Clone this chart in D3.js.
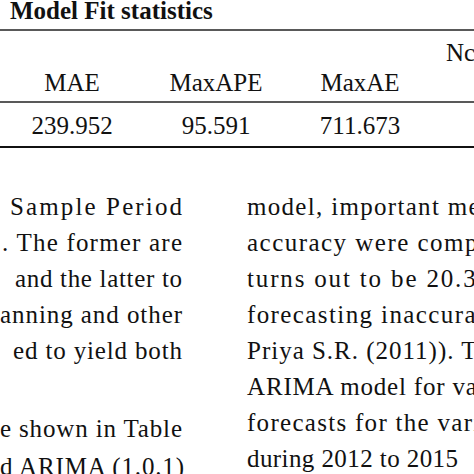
<!DOCTYPE html>
<html><head><meta charset="utf-8">
<script src="https://cdn.jsdelivr.net/npm/d3@7"></script>
<style>body{margin:0;background:#fff}svg{display:block}</style></head>
<body><script>
const title = "Model Fit statistics";
const metrics = ["MAE", "MaxAPE", "MaxAE", "Nc"];
const values = ["239.952", "95.591", "711.673", ""];
const leftLines = [
  {t:"Sample Period", x0:10, x1:182},
  {t:". The former are", x0:2, x1:182},
  {t:"and the latter to", x0:15, x1:182},
  {t:"anning and other", x0:0, x1:182},
  {t:"ed to yield both", x0:13, x1:182},
  {t:"e shown in Table", x0:0, x1:182},
  {t:"d ARIMA (1.0.1)", x0:0, x1:184}
];
const leftY = [215, 251, 287, 323, 359, 437, 475];
const rightLines = [
  {t:"model, important mea", x1:492},
  {t:"accuracy were compa", x1:490},
  {t:"turns out to be 20.35", x1:490},
  {t:"forecasting inaccurac", x1:488},
  {t:"Priya S.R. (2011)). Th", x1:490},
  {t:"ARIMA model for var", x1:486},
  {t:"forecasts for the vario", x1:494},
  {t:"during 2012 to 2015", x1:458}
];
const W=474,H=474;
const svg=d3.select("body").append("svg").attr("width",W).attr("height",H);
const font="'Liberation Serif','Times New Roman',serif";
svg.append("text").attr("x",10).attr("y",19).attr("font-family",font).attr("font-weight","bold")
  .attr("font-size",25).attr("fill","#111").text(title);
const x=d3.scalePoint().domain(metrics).range([72,504]);
[30,102].forEach(y=>svg.append("line").attr("x1",0).attr("x2",W).attr("y1",y).attr("y2",y).attr("stroke","#222").attr("stroke-width",1.5));
svg.append("line").attr("x1",0).attr("x2",W).attr("y1",147).attr("y2",147).attr("stroke","#111").attr("stroke-width",2.2);
svg.selectAll(".h").data(metrics.slice(0,3)).join("text").attr("x",d=>x(d)).attr("y",91)
  .attr("text-anchor","middle").attr("font-family",font).attr("font-size",25).attr("fill","#111").text(d=>d);
svg.append("text").attr("x",446).attr("y",61).attr("font-family",font).attr("font-size",25).attr("fill","#111").text("Nc");
svg.selectAll(".v").data(values.slice(0,3)).join("text").attr("x",(d,i)=>x(metrics[i])).attr("y",134)
  .attr("text-anchor","middle").attr("font-family",font).attr("font-size",25).attr("fill","#111").text(d=>d);
svg.selectAll(".l").data(leftLines).join("text").attr("x",d=>d.x0).attr("y",(d,i)=>leftY[i])
  .attr("textLength",d=>d.x1-d.x0).attr("lengthAdjust","spacing")
  .attr("font-family",font).attr("font-size",25).attr("fill","#111").text(d=>d.t);
svg.selectAll(".r").data(rightLines).join("text").attr("x",247).attr("y",(d,i)=>215+36*i)
  .attr("textLength",d=>d.x1-247).attr("lengthAdjust","spacing")
  .attr("font-family",font).attr("font-size",25).attr("fill","#111").text(d=>d.t);
</script></body></html>
